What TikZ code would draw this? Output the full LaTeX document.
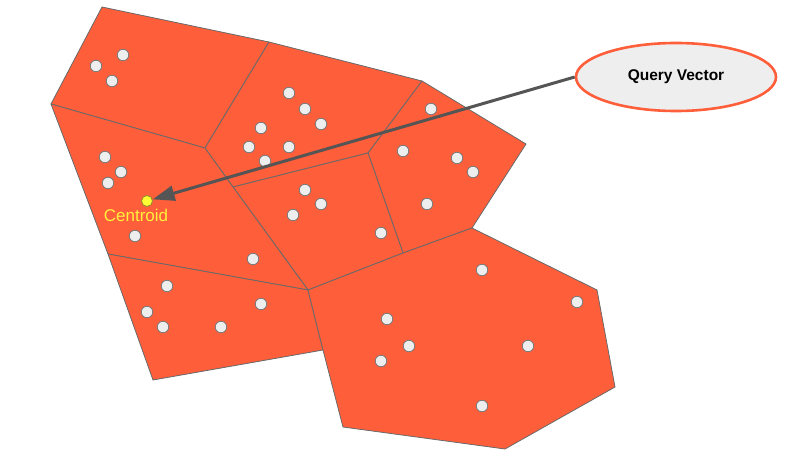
\documentclass[tikz,border=0pt]{standalone}
\usepackage{fontspec}
\setmainfont{Liberation Sans}
\usetikzlibrary{arrows.meta,shapes.geometric}
\definecolor{cellred}{RGB}{255,94,58}
\definecolor{edgegray}{RGB}{105,105,105}
\definecolor{dotfill}{RGB}{238,238,238}
\definecolor{dotedge}{RGB}{120,120,120}
\definecolor{arrowgray}{RGB}{85,85,85}
\definecolor{centyellow}{RGB}{255,255,51}
\definecolor{labelyellow}{RGB}{255,240,60}
\tikzset{
  cell/.style={fill=cellred, draw=edgegray, line width=0.8pt, line join=round},
  pt/.style={circle, fill=dotfill, draw=dotedge, line width=0.8pt, minimum size=11.5pt, inner sep=0pt},
  cent/.style={circle, fill=centyellow, draw=olive!70!gray, line width=0.8pt, minimum size=11pt, inner sep=0pt},
  query/.style={ellipse, fill=dotfill, draw=cellred, line width=2.6pt, minimum width=200pt, minimum height=68pt, font=\fontsize{15.5}{18}\selectfont\bfseries},
  qarrow/.style={draw=arrowgray, line width=3pt, -{Triangle[length=22pt,width=15pt]}},
}
\begin{document}
\begin{tikzpicture}[x=1pt,y=-1pt]
\useasboundingbox (0,0) rectangle (800,450);
% vertices
\coordinate (A) at (102,7);
\coordinate (C) at (269,42);
\coordinate (E) at (422,81);
\coordinate (F) at (526,144);
\coordinate (K) at (472,228);
\coordinate (L) at (597,290);
\coordinate (M) at (615,387);
\coordinate (N) at (505,449);
\coordinate (O) at (343,427);
\coordinate (R) at (323,350);
\coordinate (S) at (153,380);
\coordinate (Q) at (108,254);
\coordinate (B) at (51,104);
\coordinate (D) at (205,148);
\coordinate (H) at (233,187);
\coordinate (G) at (368,153);
\coordinate (I) at (403,253);
\coordinate (J) at (308,290);
% cells
\path[cell] (A) -- (C) -- (D) -- (B) -- cycle;
\path[cell] (C) -- (E) -- (G) -- (H) -- (D) -- cycle;
\path[cell] (E) -- (F) -- (K) -- (I) -- (G) -- cycle;
\path[cell] (H) -- (G) -- (I) -- (J) -- cycle;
\path[cell] (B) -- (D) -- (H) -- (J) -- (Q) -- cycle;
\path[cell] (Q) -- (J) -- (R) -- (S) -- cycle;
\path[cell] (J) -- (I) -- (K) -- (L) -- (M) -- (N) -- (O) -- (R) -- cycle;
% points
\node[pt] (p1) at (123,55) {};
\node[pt] (p2) at (96,66) {};
\node[pt] (p3) at (112,81) {};
\node[pt] (p4) at (289,93) {};
\node[pt] (p5) at (305,109) {};
\node[pt] (p6) at (321,124) {};
\node[pt] (p7) at (261,128) {};
\node[pt] (p8) at (249,147) {};
\node[pt] (p9) at (289,147) {};
\node[pt] (p10) at (265,161) {};
\node[pt] (p11) at (431,109) {};
\node[pt] (p12) at (403,151) {};
\node[pt] (p13) at (457,158) {};
\node[pt] (p14) at (473,172) {};
\node[pt] (p15) at (427,204) {};
\node[pt] (p16) at (305,190) {};
\node[pt] (p17) at (321,204) {};
\node[pt] (p18) at (293,215) {};
\node[pt] (p19) at (381,233) {};
\node[pt] (p20) at (105,157) {};
\node[pt] (p21) at (121,172) {};
\node[pt] (p22) at (108,183) {};
\node[pt] (p23) at (135,236) {};
\node[pt] (p24) at (253,259) {};
\node[pt] (p25) at (167,286) {};
\node[pt] (p26) at (147,312) {};
\node[pt] (p27) at (163,327) {};
\node[pt] (p28) at (221,327) {};
\node[pt] (p29) at (261,304) {};
\node[pt] (p30) at (482,270) {};
\node[pt] (p31) at (577,302) {};
\node[pt] (p32) at (387,319) {};
\node[pt] (p33) at (409,346) {};
\node[pt] (p34) at (381,361) {};
\node[pt] (p35) at (528,346) {};
\node[pt] (p36) at (482,406) {};
% centroid
\node[cent] (c) at (147,201) {};
\node[text=labelyellow, font=\fontsize{17}{20}\selectfont] (clab) at (136,215) {Centroid};
% query
\node[query] (qv) at (676,77) {Query Vector};
\draw[qarrow] (qv.west) -- (c);
\end{tikzpicture}
\end{document}
